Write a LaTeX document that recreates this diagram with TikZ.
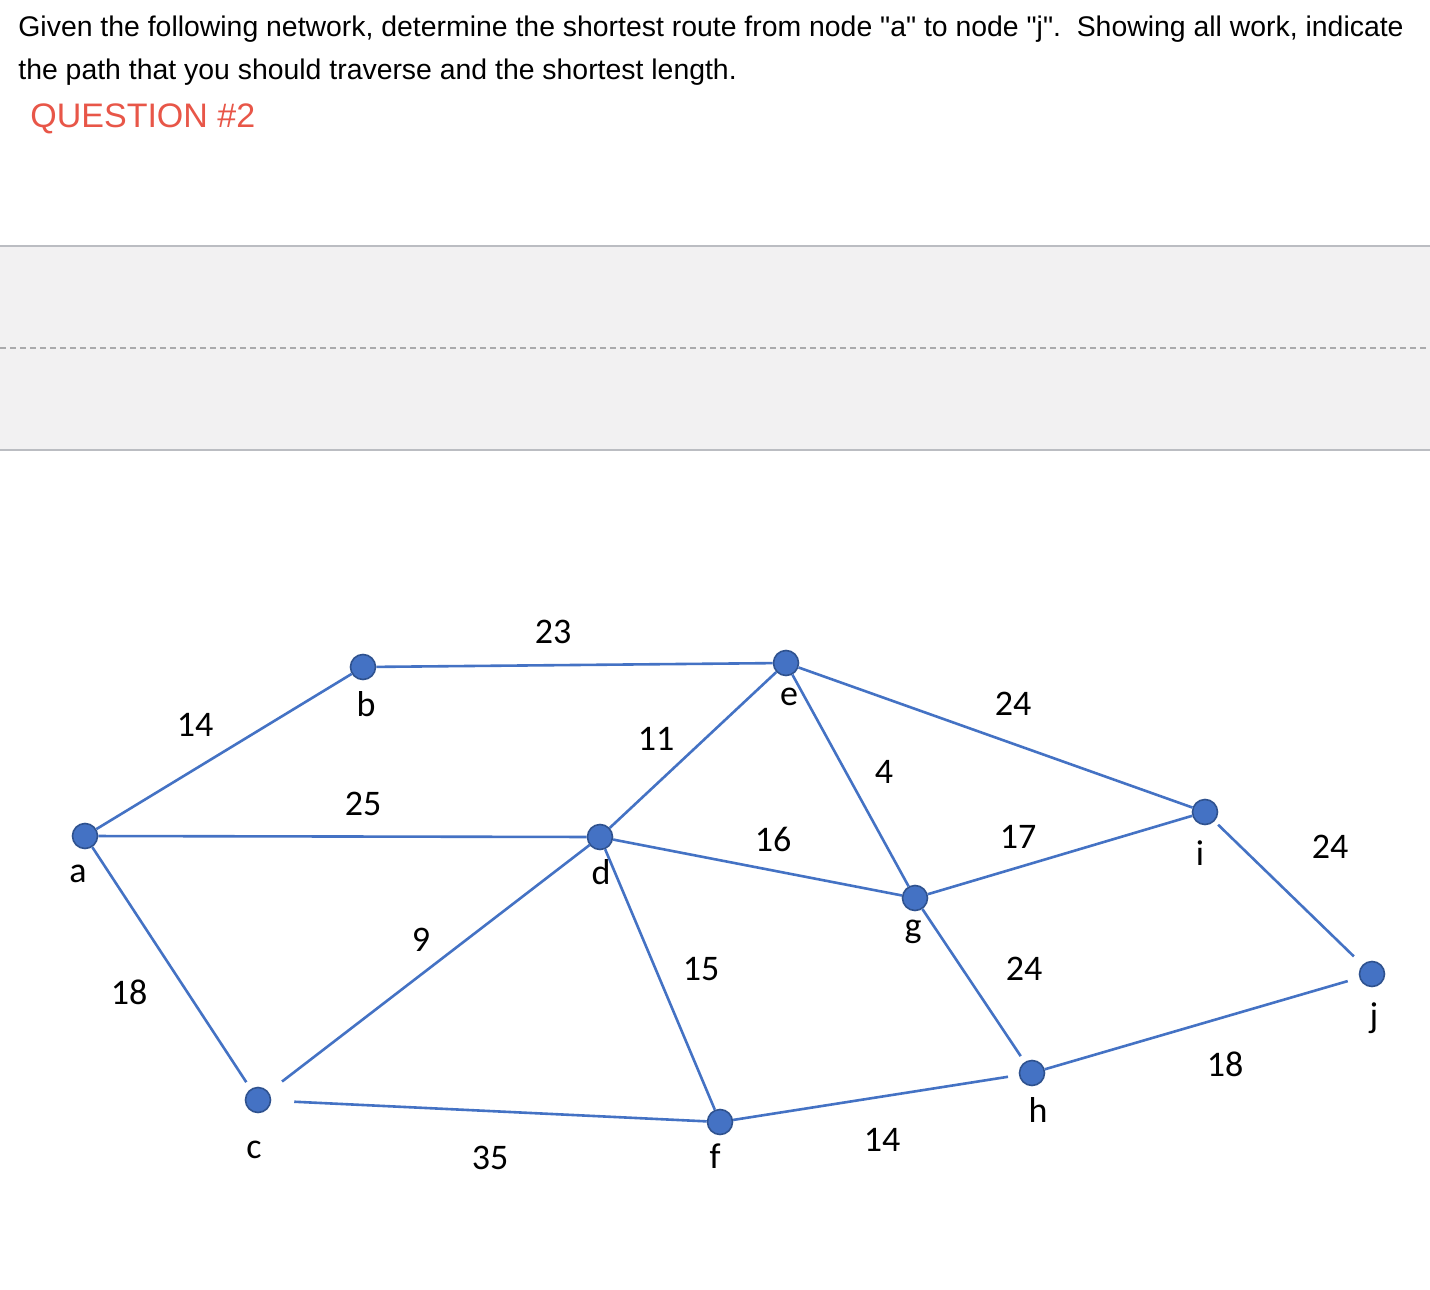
\documentclass[tikz,border=0pt]{standalone}
\usepackage{fontspec}
\setmainfont{Liberation Sans}
\newfontfamily\arialfont{Liberation Sans}
\newfontfamily\calib{Carlito}
\definecolor{nodeblue}{RGB}{68,114,196}
\definecolor{nodeborder}{RGB}{47,82,143}
\definecolor{qred}{RGB}{232,86,72}
\definecolor{boxgray}{RGB}{242,241,242}
\definecolor{rulegray}{RGB}{187,189,194}
\definecolor{dotgray}{RGB}{170,170,172}
\begin{document}
\begin{tikzpicture}[x=0.5pt,y=-0.5pt,
  vtx/.style={circle,minimum size=12.5pt,inner sep=0pt,fill=nodeblue,draw=nodeborder,line width=0.8pt},
  edge/.style={draw=nodeblue,line width=1.3pt},
  lbl/.style={font=\calib\fontsize{18}{20}\selectfont,inner sep=0pt,text=black},
  txt/.style={font=\arialfont\fontsize{14.2}{17}\selectfont,anchor=base west,inner sep=0pt}]
\useasboundingbox (0,0) rectangle (1430,1290);
\fill[white] (0,0) rectangle (1430,1290);
% header text
\node[txt] (t1) at (18,36) {Given the following network, determine the shortest route from node "a" to node "j".\ \ Showing all work, indicate};
\node[txt] (t2) at (18,79) {the path that you should traverse and the shortest length.};
\node[txt,font=\arialfont\fontsize{17}{20}\selectfont,text=qred] (q) at (30,127) {QUESTION \#2};
% answer box
\fill[boxgray] (0,246) rectangle (1430,450);
\draw[rulegray,line width=1pt] (0,246) -- (1430,246);
\draw[rulegray,line width=1pt] (0,450) -- (1430,450);
\draw[dotgray,line width=1pt,dash pattern=on 3pt off 2pt] (0,348) -- (1430,348);
% vertices
\node[vtx] (a) at (85,836) {};
\node[vtx] (b) at (363,667) {};
\node[vtx] (c) at (258,1100) {};
\node[vtx] (d) at (600,837) {};
\node[vtx] (e) at (786,663) {};
\node[vtx] (f) at (720,1122) {};
\node[vtx] (g) at (915,898) {};
\node[vtx] (h) at (1032,1073) {};
\node[vtx] (i) at (1205,812) {};
\node[vtx] (j) at (1372,974) {};
% edges
\draw[edge] (a) -- (b);
\draw[edge] (b) -- (e);
\draw[edge] (a) -- (d);
\draw[edge,shorten >=4pt] (a) -- (c);
\draw[edge,shorten <=8.5pt] (c) -- (d);
\draw[edge,shorten <=11.5pt] (c) -- (f);
\draw[edge] (d) -- (e);
\draw[edge] (d) -- (f);
\draw[edge] (d) -- (g);
\draw[edge] (e) -- (g);
\draw[edge] (e) -- (i);
\draw[edge] (g) -- (i);
\draw[edge,shorten >=3.5pt] (g) -- (h);
\draw[edge,shorten >=5.5pt] (f) -- (h);
\draw[edge,shorten >=6pt] (h) -- (j);
\draw[edge,shorten <=2.5pt,shorten >=6pt] (i) -- (j);
% vertex labels
\node[lbl] (la) at (78,874) {a};
\node[lbl] (lb) at (366,704) {b};
\node[lbl] (lc) at (254,1150) {c};
\node[lbl] (ld) at (601,872) {d};
\node[lbl] (le) at (789,697) {e};
\node[lbl] (lf) at (715,1156) {f};
\node[lbl] (lg) at (913,932) {g};
\node[lbl] (lh) at (1038,1110) {h};
\node[lbl] (li) at (1200,853) {i};
\node[lbl] (lj) at (1374,1018) {j};
% weights
\node[lbl] (w1) at (195,725) {14};
\node[lbl] (w2) at (553,632) {23};
\node[lbl] (w3) at (363,804) {25};
\node[lbl] (w4) at (656,739) {11};
\node[lbl] (w5) at (129,992) {18};
\node[lbl] (w6) at (421,940) {9};
\node[lbl] (w7) at (773,839) {16};
\node[lbl] (w8) at (884,772) {4};
\node[lbl] (w9) at (1013,704) {24};
\node[lbl] (w10) at (1018,837) {17};
\node[lbl] (w11) at (1330,847) {24};
\node[lbl] (w12) at (701,969) {15};
\node[lbl] (w13) at (1024,969) {24};
\node[lbl] (w14) at (1225,1064) {18};
\node[lbl] (w15) at (490,1158) {35};
\node[lbl] (w16) at (882,1140) {14};
\end{tikzpicture}
\end{document}
